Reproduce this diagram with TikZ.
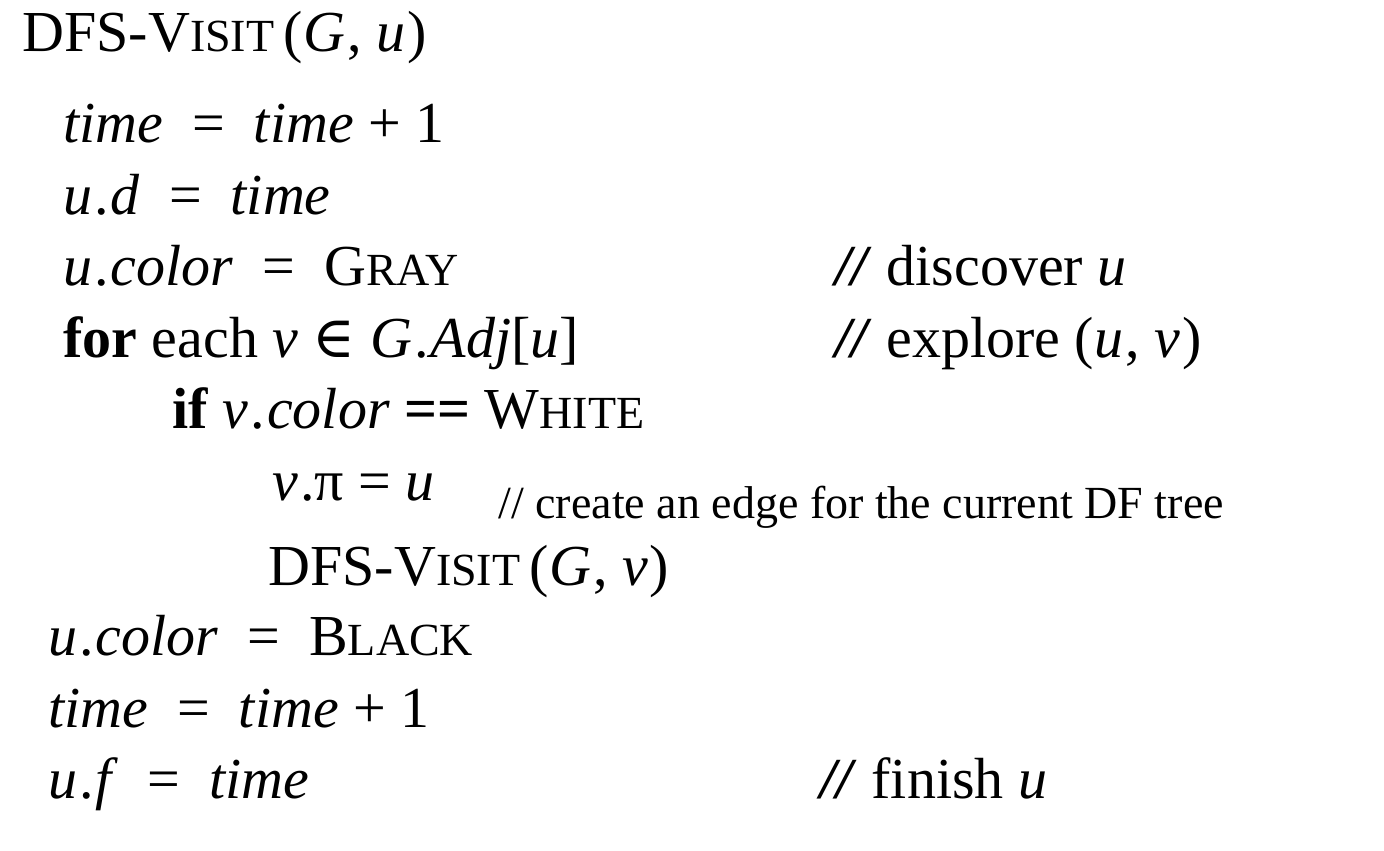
\documentclass[tikz,border=0pt]{standalone}
\usepackage{fontspec}
\setmainfont{Liberation Serif}
\newfontfamily\symf{DejaVu Serif}
\newcommand{\scap}[2]{#1{\fontsize{23}{25}\selectfont #2}}
\newcommand{\ii}[1]{\textit{#1}}
\newcommand{\eq}{\ \ =\ \ }
\newcommand{\cm}{\textbf{\textit{//}}\ }
\begin{document}
\begin{tikzpicture}[x=0.5pt,y=-0.5pt,
  ln/.style={anchor=base west,inner sep=0pt,font=\fontsize{29}{32}\selectfont},
  sm/.style={anchor=base west,inner sep=0pt,font=\fontsize{23}{26}\selectfont}]
\useasboundingbox (0,0) rectangle (1384,850);
\node[ln] (l1) at (22,52) {\scap{DFS-V}{ISIT}\,(\ii{G}\kern1pt, \ii{u}\kern1pt)};
\node[ln] (l2) at (63,143) {\ii{time}\eq\ii{time}\ +\ 1};
\node[ln] (l3) at (63,214) {\ii{u}\kern1pt.\kern1pt\ii{d}\eq\ii{time}};
\node[ln] (l4) at (63,285) {\ii{u}\kern1pt.\kern1pt\ii{color}\eq\scap{G}{RAY}};
\node[ln] (c4) at (835,285) {\cm discover \ii{u}};
\node[ln] (l5) at (63,357) {\textbf{for} each \ii{v} {\symf ∈} \ii{G}\kern1pt.\kern1pt\ii{Adj}[\ii{u}]};
\node[ln] (c5) at (835,357) {\cm explore (\ii{u}\kern1pt, \ii{v}\kern1pt)};
\node[ln] (l6) at (172,428) {\textbf{if} \ii{v}\kern1pt.\kern1pt\ii{color} \textbf{==} \scap{W}{HITE}};
\node[ln] (l7) at (272,500) {\ii{v}\kern1pt.π = \ii{u}};
\node[sm] (c7) at (498,518) {// create an edge for the current DF tree};
\node[ln] (l8) at (268,585) {\scap{DFS-V}{ISIT}\,(\ii{G}\kern1pt, \ii{v}\kern1pt)};
\node[ln] (l9) at (48,655) {\ii{u}\kern1pt.\kern1pt\ii{color}\eq\scap{B}{LACK}};
\node[ln] (l10) at (48,727) {\ii{time}\eq\ii{time}\ +\ 1};
\node[ln] (l11) at (48,798) {\ii{u}\kern1pt.\kern1pt\ii{f}\eq\ii{time}};
\node[ln] (c11) at (820,798) {\cm finish \ii{u}};
\end{tikzpicture}
\end{document}
